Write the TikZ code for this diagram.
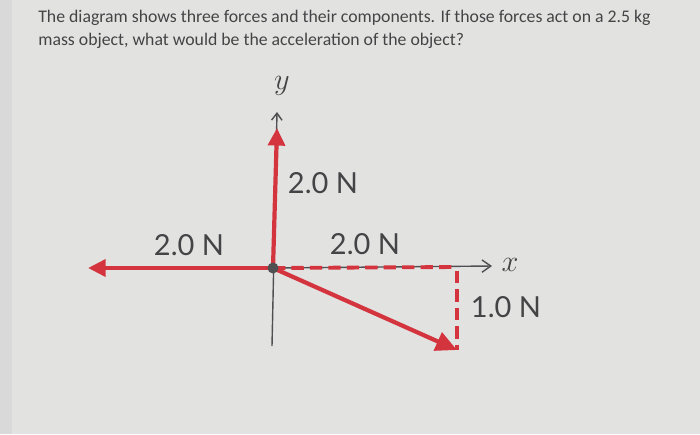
\documentclass[tikz,border=0pt]{standalone}
\usepackage{fontspec}
\setmainfont{Lato}
\newfontfamily\questfont{Carlito}
\usetikzlibrary{arrows.meta}
\definecolor{forcered}{RGB}{212,52,62}
\definecolor{axisgray}{RGB}{80,80,82}
\definecolor{inkgray}{RGB}{68,68,70}
\definecolor{paper}{RGB}{226,227,225}
\tikzset{
  force/.style={forcered,line width=2.4pt,-{Triangle[length=10pt,width=9.5pt]}},
  comp/.style={forcered,line width=2.2pt,dash pattern=on 7pt off 3.5pt},
  axis/.style={axisgray,line width=0.8pt},
  lbl/.style={inkgray,font=\fontsize{16.5}{19}\selectfont},
  axlbl/.style={inkgray,font=\fontsize{16}{18}\selectfont}
}
\begin{document}
\begin{tikzpicture}[x=0.02cm,y=-0.02cm]
\useasboundingbox (0,0) rectangle (700,434);
\fill[paper] (0,0) rectangle (700,434);
\fill[gray!30] (0,0) rectangle (12,434);

% Question
\node[inkgray,anchor=north west,align=left,
  font=\fontsize{10.1}{11}\questfont,inner sep=0pt] (question) at (38,10)
  {The diagram shows three forces and their components. If those forces act on a 2.5 kg\\[2pt]
   mass object, what would be the acceleration of the object?};

% Points
\coordinate (O) at (273,268);
\coordinate (ytop) at (277,112);
\coordinate (ybot) at (272,346);
\coordinate (xtip) at (492,266);
\coordinate (Fy) at (277,128);
\coordinate (Fl) at (88,268);
\coordinate (Fd) at (457,350);
\coordinate (Cx) at (457,267);

% Axes
\draw[axis,-{Straight Barb[length=4pt,width=6pt]}] (ybot) -- (ytop);
\draw[axis,-{Straight Barb[length=5pt,width=7pt]}] (O) -- (xtip);
\node[axlbl] (ylab) at (282,86) {$y$};
\node[axlbl] (xlab) at (510,265) {$x$};

% Components
\draw[comp] (O) -- (Cx);
\draw[comp] (Cx) ++(0,4) -- (Fd);

% Forces
\draw[force] (O) -- (Fy);
\draw[force] (O) -- (Fl);
\draw[force,-{Triangle[length=12pt,width=11pt]}] (O) -- (Fd);
\fill[axisgray] (O) circle (5.5);

% Labels
\node[lbl] (Fylab) at (323,183) {2.0 N};
\node[lbl] (Fllab) at (189,245) {2.0 N};
\node[lbl] (Cxlab) at (365,244) {2.0 N};
\node[lbl] (Cylab) at (506,307) {1.0 N};

\end{tikzpicture}
\end{document}
